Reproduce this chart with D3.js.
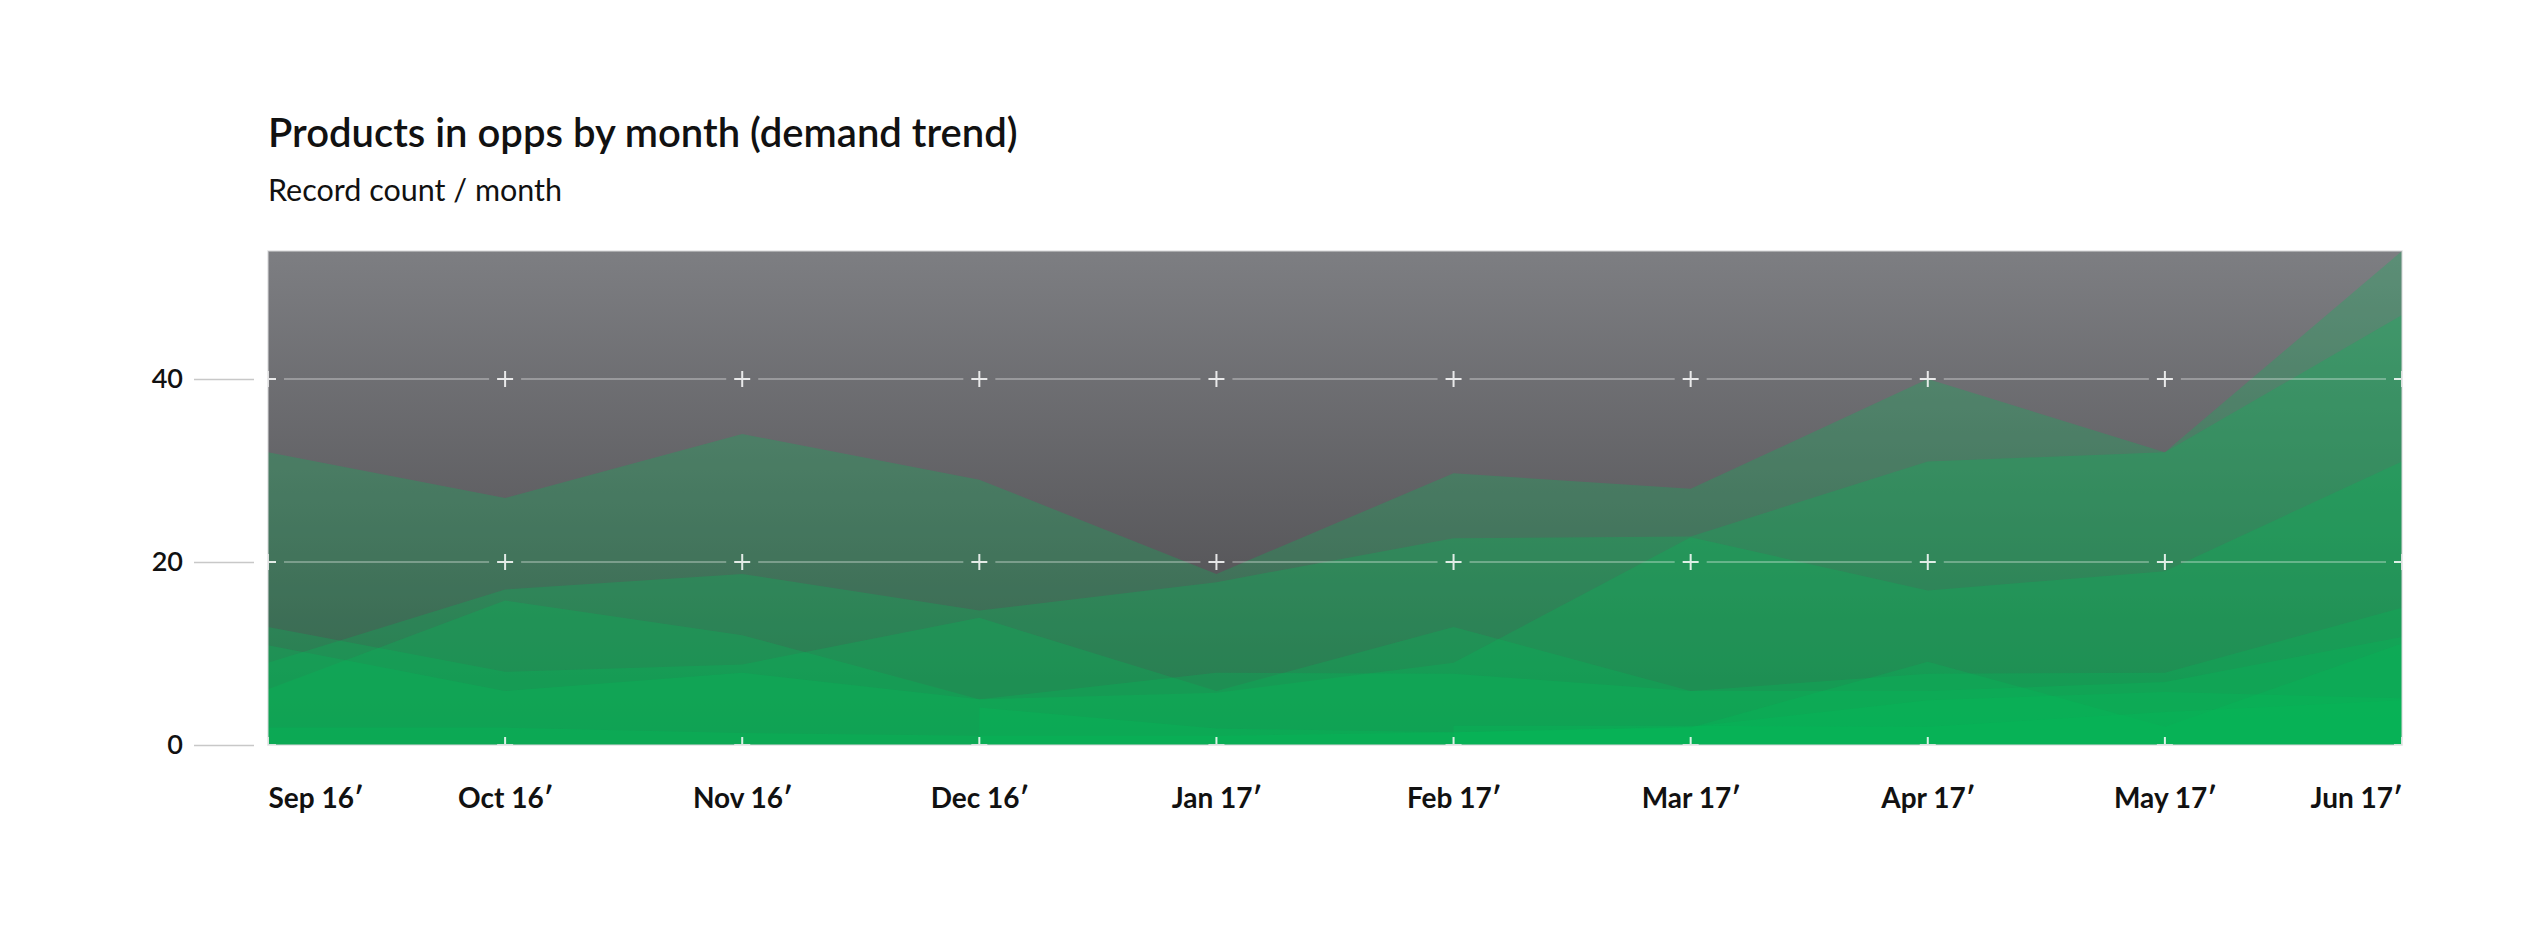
<!DOCTYPE html>
<html>
<head>
<meta charset="utf-8">
<script src="https://cdn.jsdelivr.net/npm/d3@7"></script>
<style>
  body { margin: 0; background: #fff; }
  text { font-family: Lato, "Open Sans", sans-serif; }
</style>
</head>
<body>
<script>
// months on the x axis
var months = ["Sep 16′", "Oct 16′", "Nov 16′", "Dec 16′", "Jan 17′", "Feb 17′", "Mar 17′", "Apr 17′", "May 17′", "Jun 17′"];

// record counts per product (null = no records yet)
var productA = [32, 27, 34, 29, 18.7, 29.7, 28, 40, 32, 54];
var productB = [9, 17, 18.7, 14.7, 17.8, 22.6, 22.8, 31, 32, 47];
var productC = [6.1, 15.8, 12, 5, 5.7, 9, 22.7, 16.9, 19, 31];
var productD = [12.9, 8, 8.8, 13.9, 5.9, 12.9, 5.9, 7.8, 7.9, 15];
var productE = [10.9, 5.9, 7.9, 5, 7.9, 7.8, 5.9, 5.9, 6.9, 11.8];
var productF = [1.9, 1.9, 1.3, 1, 1, 1.4, 1.9, 9.1, 2, 11.1];
var productG = [null, null, null, 4.1, 1.8, 1.4, 2, 4.9, 5.8, 5.1];
var productH = [null, null, null, null, null, 2.1, 2.1, 2, 3.6, 4.9];

var yTicks = [0, 20, 40];

var series = [productA, productB, productC, productD, productE, productF, productG, productH];

var width = 2543, height = 938;
var plotLeft = 268, plotRight = 2402, plotTop = 251, plotBottom = 745;

var svg = d3.select("body").append("svg")
    .attr("width", width)
    .attr("height", height);

var x = d3.scalePoint().domain(months).range([plotLeft, plotRight]);
var y = d3.scaleLinear().domain([0, 54]).range([plotBottom, plotTop]);

var defs = svg.append("defs");
var bg = defs.append("linearGradient").attr("id", "bg")
    .attr("x1", 0).attr("y1", 0).attr("x2", 0).attr("y2", 1);
bg.append("stop").attr("offset", "0%").attr("stop-color", "#7d7e82");
bg.append("stop").attr("offset", "100%").attr("stop-color", "#444346");

defs.append("clipPath").attr("id", "plotclip")
  .append("rect")
    .attr("x", plotLeft).attr("y", plotTop)
    .attr("width", plotRight - plotLeft).attr("height", plotBottom - plotTop);

// titles
svg.append("text")
    .attr("x", plotLeft).attr("y", 147)
    .attr("font-size", 40)
    .attr("font-weight", 600)
    .attr("fill", "#111")
    .text("Products in opps by month (demand trend)");
svg.append("text")
    .attr("x", plotLeft).attr("y", 201)
    .attr("font-size", 30.5)
    .attr("fill", "#111")
    .text("Record count / month");

// plot background
svg.append("rect")
    .attr("x", plotLeft).attr("y", plotTop)
    .attr("width", plotRight - plotLeft).attr("height", plotBottom - plotTop)
    .attr("fill", "url(#bg)");

var plot = svg.append("g").attr("clip-path", "url(#plotclip)");

var area = d3.area()
    .defined(function(d) { return d != null; })
    .x(function(d, i) { return x(months[i]); })
    .y0(y(0))
    .y1(function(d) { return y(d); });

plot.selectAll("path.area")
    .data(series)
  .enter().append("path")
    .attr("class", "area")
    .attr("d", area)
    .attr("fill", "#05bd5a")
    .attr("fill-opacity", 0.27);

// grid lines with gaps around the crosses
var grid = plot.append("g");
[20, 40].forEach(function(v) {
  for (var i = 0; i < months.length - 1; i++) {
    grid.append("line")
        .attr("x1", x(months[i]) + 16)
        .attr("x2", x(months[i + 1]) - 16)
        .attr("y1", y(v)).attr("y2", y(v))
        .attr("stroke", "#fff")
        .attr("stroke-opacity", 0.3)
        .attr("stroke-width", 2);
  }
});

yTicks.forEach(function(v) {
  months.forEach(function(m) {
    grid.append("path")
        .attr("d", "M" + (x(m) - 8) + "," + y(v) + "h16M" + x(m) + "," + (y(v) - 8) + "v16")
        .attr("stroke", "#fff")
        .attr("stroke-opacity", 0.85)
        .attr("stroke-width", 2);
  });
});

// plot frame
svg.append("rect")
    .attr("x", plotLeft).attr("y", plotTop)
    .attr("width", plotRight - plotLeft).attr("height", plotBottom - plotTop)
    .attr("fill", "none")
    .attr("stroke", "#d4d4d6")
    .attr("stroke-opacity", 0.7)
    .attr("stroke-width", 1.5);

// y axis
var yAxis = svg.append("g")
    .attr("transform", "translate(254,0)")
    .call(d3.axisLeft(y).tickValues(yTicks).tickSize(60).tickPadding(11));
yAxis.select(".domain").remove();
yAxis.selectAll(".tick line").attr("stroke", "#c8c8c8").attr("stroke-width", 1.5);
yAxis.selectAll(".tick text")
    .attr("font-size", 27)
    .attr("font-weight", 600)
    .attr("fill", "#111");

// x axis
var xAxis = svg.append("g")
    .attr("transform", "translate(0," + plotBottom + ")")
    .call(d3.axisBottom(x).tickSize(0).tickPadding(43));
xAxis.select(".domain").remove();
xAxis.selectAll(".tick text")
    .attr("font-size", 28)
    .attr("font-weight", 700)
    .attr("fill", "#111")
    .attr("text-anchor", function(d, i) {
      return i == 0 ? "start" : (i == months.length - 1 ? "end" : "middle");
    });
</script>
</body>
</html>
